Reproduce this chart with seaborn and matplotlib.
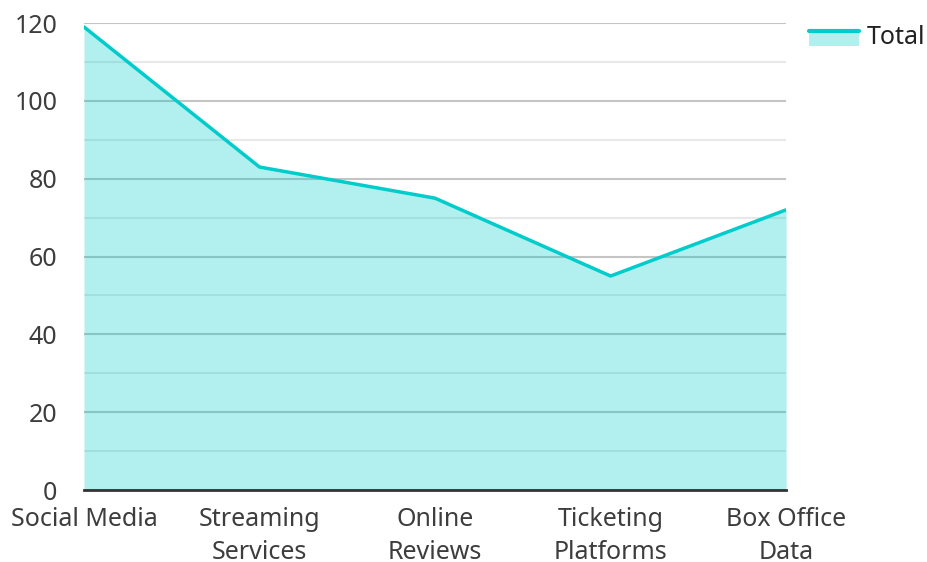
import matplotlib
matplotlib.use('Agg')
import matplotlib.pyplot as plt
import seaborn as sns
import pandas as pd
from matplotlib.lines import Line2D
from matplotlib.patches import Rectangle
from matplotlib.legend_handler import HandlerBase
from matplotlib.ticker import MultipleLocator

# 데이터
categories = ['Social Media', 'Streaming\nServices', 'Online\nReviews',
              'Ticketing\nPlatforms', 'Box Office\nData']
totals = [119, 83, 75, 55, 72]

line_color = '#00CCCC'
text_color = '#3d3d3d'

sns.set_theme(style='white')
plt.rcParams['font.family'] = ['Noto Sans', 'DejaVu Sans']

df = pd.DataFrame({'pos': range(len(categories)), 'Total': totals})

fig = plt.figure(figsize=(9.27, 5.62), dpi=100)
ax = fig.add_axes([0.0906, 0.128, 0.7574, 0.831])

# 면적 + 선
ax.fill_between(df['pos'], df['Total'], color=line_color, alpha=0.3, linewidth=0, zorder=2)
sns.lineplot(data=df, x='pos', y='Total', color=line_color, linewidth=2.5, ax=ax, zorder=3)

ax.set_xlim(0, len(categories) - 1)
ax.set_ylim(0, 120)
ax.set_xticks(range(len(categories)))
ax.set_xticklabels(categories, linespacing=1.45)
ax.yaxis.set_major_locator(MultipleLocator(20))
ax.yaxis.set_minor_locator(MultipleLocator(10))

ax.grid(True, which='major', axis='y', color='#c4c4c4', linewidth=1.5, zorder=0)
ax.grid(True, which='minor', axis='y', color='#e8e8e8', linewidth=1.5, zorder=0)
ax.set_axisbelow(True)

for s in ['left', 'right', 'top']:
    ax.spines[s].set_visible(False)
ax.spines['bottom'].set_color('#333333')
ax.spines['bottom'].set_linewidth(2)
ax.spines['bottom'].set_zorder(4)

ax.tick_params(axis='both', which='both', length=0, labelsize=18, colors=text_color)
ax.tick_params(axis='y', pad=19)
ax.tick_params(axis='x', pad=12)
ax.set_xlabel('')
ax.set_ylabel('')


# 범례 핸들 (면적 위에 선)
class AreaHandler(HandlerBase):
    def create_artists(self, legend, orig_handle, xdescent, ydescent, width, height, fontsize, trans):
        rect = Rectangle((-xdescent, -ydescent - 0.25 * height), width, height, facecolor=line_color,
                         alpha=0.3, linewidth=0, transform=trans)
        top = -ydescent + 0.75 * height
        ln = Line2D([-xdescent, -xdescent + width], [top, top],
                    color=line_color, linewidth=3, transform=trans)
        return [rect, ln]


handle = Rectangle((0, 0), 1, 1)
leg = ax.legend([handle], ['Total'], handler_map={Rectangle: AreaHandler()},
                loc='upper left', bbox_to_anchor=(1.0, 1.044), frameon=False,
                fontsize=18, handlelength=2.0, handleheight=0.55, handletextpad=0.33,
                labelcolor='#222222')

fig.savefig('out.png', dpi=100)
